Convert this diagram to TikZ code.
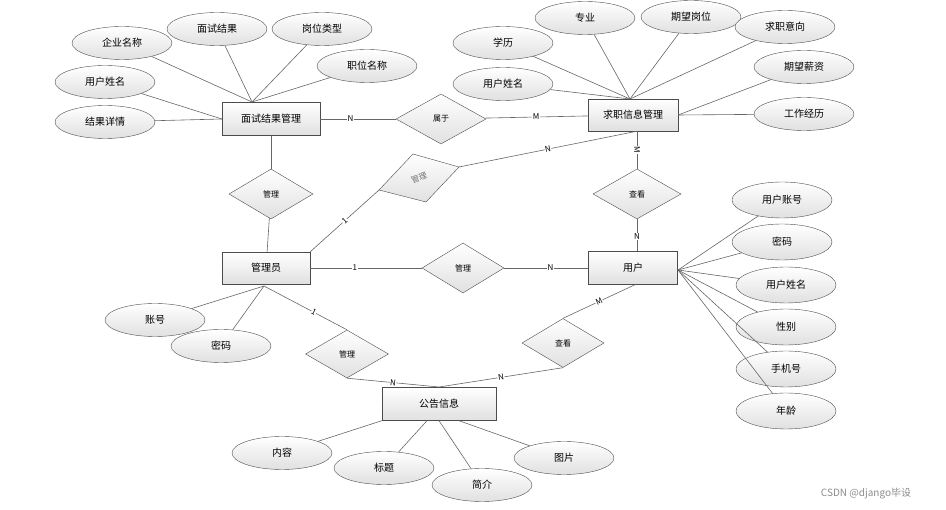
\documentclass[tikz,border=0pt]{standalone}
\usepackage{fontspec}
\setmainfont{Noto Sans CJK SC}
\usetikzlibrary{shapes.geometric}
\begin{document}
\begin{tikzpicture}[x=1pt,y=-1pt,
  ent/.style={draw=black!70,rectangle,top color=white,bottom color=black!12,font=\fontsize{10}{12}\selectfont,inner sep=0},
  rel/.style={draw=black!70,diamond,aspect=1.7,top color=white,bottom color=black!12,font=\fontsize{8}{10}\selectfont,inner sep=0,minimum width=84,minimum height=50},
  att/.style={draw=black!70,ellipse,top color=white,bottom color=black!12,font=\fontsize{10}{12}\selectfont,minimum width=100,minimum height=33,inner sep=0},
  ln/.style={draw=black!60,line width=0.6pt},
  lab/.style={fill=white,inner sep=0.5pt,font=\fontsize{8}{10}\selectfont}]
\useasboundingbox (0,0) rectangle (946,510);
% entities
\node[ent,minimum width=98,minimum height=33] (ms) at (271,119) {面试结果管理};
\node[ent,minimum width=90,minimum height=32] (qz) at (633,115) {求职信息管理};
\node[ent,minimum width=88,minimum height=32] (gly) at (266,268) {管理员};
\node[ent,minimum width=89,minimum height=33] (yh) at (633,268) {用户};
\node[ent,minimum width=114,minimum height=33] (gg) at (439,404) {公告信息};
% relations
\node[rel,minimum width=90] (sy) at (441,119) {属于};
\node[rel] (gl1) at (271,194) {管理};
\node[rel,minimum width=88] (ck1) at (637,194) {查看};
\node[rel,minimum width=82] (gl2) at (463,268) {管理};
\node[rel,minimum width=83,minimum height=48] (gl3) at (347,354) {管理};
\node[rel,minimum width=82,minimum height=49] (ck2) at (563,343) {查看};
\draw[draw=black!70,top color=white,bottom color=black!12] (413,154)--(459,167)--(426,202)--(379,190)--cycle;
\node[font=\fontsize{8}{10}\selectfont,text=black!55,rotate=20] (gl4) at (419,178) {管理};
\coordinate (g4sw) at (379,190); \coordinate (g4ne) at (459,167);
% attributes of 面试结果管理
\node[att] (a1) at (122,43) {企业名称};
\node[att] (a2) at (217,29) {面试结果};
\node[att] (a3) at (322,29) {岗位类型};
\node[att] (a4) at (367,66) {职位名称};
\node[att] (a5) at (105,82) {用户姓名};
\node[att] (a6) at (105,122) {结果详情};
\coordinate (mst) at (252,102);
\draw[ln] (a1) -- (mst); \draw[ln] (a2) -- (mst); \draw[ln] (a3) -- (mst); \draw[ln] (a4) -- (mst);
\draw[ln] (a5) -- (ms.west); \draw[ln] (a6) -- (ms.west);
% attributes of 求职信息管理
\node[att] (b1) at (585,18) {专业};
\node[att] (b2) at (691,17) {期望岗位};
\node[att] (b3) at (785,27) {求职意向};
\node[att] (b4) at (503,43) {学历};
\node[att] (b5) at (503,84) {用户姓名};
\node[att] (b6) at (804,67) {期望薪资};
\node[att] (b7) at (804,114) {工作经历};
\coordinate (qzt) at (630,99);
\foreach \b in {b1,b2,b3,b4,b5} \draw[ln] (\b) -- (qzt);
\draw[ln] (b6) -- (qz.east); \draw[ln] (b7) -- (qz.east);
% attributes of 用户
\node[att,minimum height=36] (c1) at (782,200) {用户账号};
\node[att,minimum height=36] (c2) at (782,242) {密码};
\node[att,minimum height=36] (c3) at (786,285) {用户姓名};
\node[att,minimum height=36] (c4) at (786,327) {性别};
\node[att,minimum height=36] (c5) at (786,369) {手机号};
\node[att,minimum height=36] (c6) at (786,411) {年龄};
\coordinate (yhe) at (678,270);
\foreach \c in {c1,c2,c3,c4,c5,c6} \draw[ln] (\c) -- (yhe);
% attributes of 管理员
\node[att] (d1) at (155,320) {账号};
\node[att] (d2) at (221,346) {密码};
\coordinate (glyb) at (264,286);
\draw[ln] (d1) -- (glyb); \draw[ln] (d2) -- (glyb);
% attributes of 公告信息
\node[att] (e1) at (282,453) {内容};
\node[att] (e2) at (384,468) {标题};
\node[att] (e3) at (482,485) {简介};
\node[att] (e4) at (564,458) {图片};
\draw[ln] (e1) -- (gg.south west); \draw[ln] (e2) -- ([xshift=-12]gg.south);
\draw[ln] (e3) -- (gg.south); \draw[ln] (e4) -- ([xshift=20]gg.south);
% relationships
\draw[ln] (ms) -- node[lab,pos=0.4] {N} (sy);
\draw[ln] (sy) -- node[lab,pos=0.5] {M} (qz);
\draw[ln] (ms) -- (gl1); \draw[ln] (gl1) -- (gly);
\draw[ln] (gly.north east) -- node[lab,sloped,pos=0.5] {1} (g4sw);
\draw[ln] (g4ne) -- node[lab,pos=0.5,sloped] {N} ([xshift=4]qz.south);
\draw[ln] ([xshift=4]qz.south) -- node[lab,rotate=-90] {M} (ck1);
\draw[ln] (ck1) -- node[lab,rotate=180,pos=0.55] {N} ([xshift=4]yh.north);
\draw[ln] (gly) -- node[lab,pos=0.4] {1} (gl2);
\draw[ln] (gl2) -- node[lab,pos=0.55] {N} (yh);
\draw[ln] (glyb) -- node[lab,sloped,pos=0.6] {1} (gl3.north);
\coordinate (ggt) at (439,387);
\draw[ln] (gl3.south) -- node[lab,pos=0.5,sloped] {N} (ggt);
\draw[ln] (ggt) -- node[lab,pos=0.5,sloped] {N} (ck2.south);
\draw[ln] (ck2.north) -- node[lab,pos=0.5,sloped] {M} ([xshift=2]yh.south);
\node[font=\fontsize{10}{12}\selectfont,text=black!45] (wm) at (866,494) {CSDN @django毕设};
\end{tikzpicture}
\end{document}
